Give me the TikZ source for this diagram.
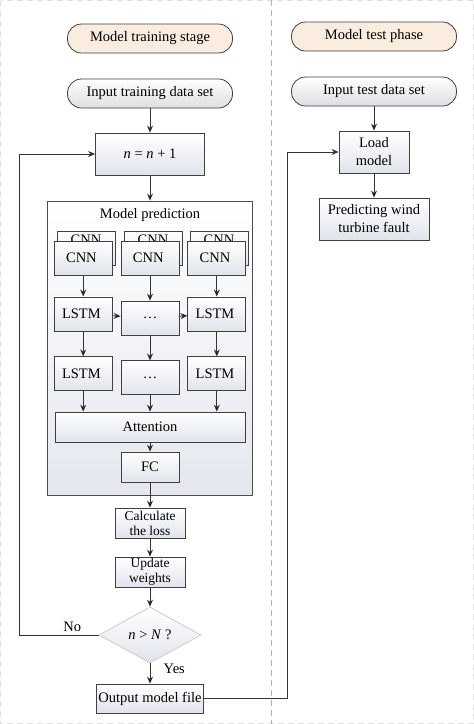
\documentclass[tikz,border=0pt]{standalone}
\usepackage{amsmath}
\usepackage{fontspec}
\setmainfont{Liberation Serif}
\usepackage{tikz}
\usetikzlibrary{positioning}
\usetikzlibrary{matrix}
\usetikzlibrary{shapes.geometric}
\usetikzlibrary{arrows.meta}

\definecolor{stagepeach}{RGB}{250,236,222}
\definecolor{pillgray}{RGB}{222,222,226}
\definecolor{boxgray}{RGB}{224,228,235}

\begin{document}
\begin{tikzpicture}[x=1pt,y=-1pt,font=\fontsize{14.5}{18}\selectfont,
  box/.style={draw=black!75,line width=0.8pt,top color=white,bottom color=boxgray,
    minimum width=58pt,minimum height=34pt,inner sep=2pt,align=center},
  small/.style={font=\fontsize{13.5}{15}\selectfont,inner sep=1pt},
  cnnback/.style={box,minimum height=0pt,text height=11pt,text depth=19pt,inner ysep=2pt},
  pill/.style={draw=black!75,line width=0.8pt,rounded corners=14pt,
    minimum width=165pt,minimum height=29pt},
  panel/.style={draw=black!70,line width=0.8pt,top color=white,bottom color=boxgray!90,
    minimum width=205pt,minimum height=294pt},
  decision/.style={diamond,aspect=1.8,draw=gray!40,line width=0.8pt,top color=white,
    bottom color=boxgray,minimum width=102pt,minimum height=56pt,inner sep=0pt},
  flow/.style={draw=black!80,line width=0.8pt,-{Stealth[length=7pt,width=6pt]}},
  divider/.style={draw=gray!60,line width=0.6pt,dash pattern=on 6pt off 4pt}]
\useasboundingbox (0,0) rectangle (474,724);
\draw[gray!25,dash pattern=on 6pt off 4pt] (0.5,0.5) rectangle (473.5,723.5);
\coordinate (divtop) at (271,0);
\coordinate (divbot) at (271,724);
\draw[divider] (divtop) -- (divbot);

% training stage
\node[pill,fill=stagepeach] (trainstage) at (150,38.5) {Model training stage};
\node[pill,top color=white,bottom color=pillgray] (traindata) at (150,93.5) {Input training data set};
\node[box,minimum width=109pt,minimum height=42pt] (count) at (150,154) {\textit{n} = \textit{n} + 1};
\node[panel] (pred) at (150,348) {};
\node (predlabel) at (150,215) {Model prediction};
\node[cnnback] (cnnb1) at (86,248) {CNN};
\node[cnnback] (cnnb2) at (153,248) {CNN};
\node[cnnback] (cnnb3) at (219,248) {CNN};
\matrix (m) [matrix of nodes,row sep=21pt,column sep=8pt,nodes={box}] at (150,318)
  {
     CNN & CNN & CNN \\
     LSTM & \dots & LSTM \\
     LSTM & \dots & LSTM \\
  };
\node[box,minimum width=190pt,minimum height=30pt] (att) at (150,427) {Attention};
\node[box,minimum height=30pt] (fc) at (150,467) {FC};
\node[box,small,minimum width=70pt,minimum height=30pt] (loss) at (150,523) {Calculate\\the loss};
\node[box,small,minimum width=70pt,minimum height=30pt] (update) at (150,572) {Update\\weights};
\node[decision] (check) at (150,635) {\textit{n} > \textit{N} ?};
\node[box,minimum width=103pt,minimum height=29pt] (out) at (150,698.5) {Output model file};

% test phase
\node[pill,fill=stagepeach] (teststage) at (374,36.5) {Model test phase};
\node[pill,top color=white,bottom color=pillgray] (testdata) at (374,91.5) {Input test data set};
\node[box,minimum width=70pt,minimum height=42pt] (load) at (374,152) {Load\\model};
\node[box,minimum width=110pt,minimum height=42pt] (fault) at (374,219) {Predicting wind\\turbine fault};

\coordinate (loopback) at (19,0);
\coordinate (handover) at (287,0);

\path[flow]
  (traindata) edge (count)
  (count) edge (pred)
  (m-1-1) edge (m-2-1)
  (m-1-2) edge (m-2-2)
  (m-1-3) edge (m-2-3)
  (m-2-1) edge (m-3-1)
          edge (m-2-2)
  (m-2-2) edge (m-3-2)
          edge (m-2-3)
  (m-2-3) edge (m-3-3)
  (m-3-1) edge (m-3-1 |- att.north)
  (m-3-2) edge (m-3-2 |- att.north)
  (m-3-3) edge (m-3-3 |- att.north)
  (att) edge (fc)
  (fc) edge (loss)
  (loss) edge (update)
  (update) edge (check)
  (check) edge node [right=10pt,pos=0.25] {Yes} (out)
  (testdata) edge (load)
  (load) edge (fault)
  ;
\draw[flow] (check.west) -- node [above,pos=0.33] {No} (check.west -| loopback) |- (count.west);
\draw[flow] (out.east) -- (out.east -| handover) |- (load.west);
\end{tikzpicture}
\end{document}
